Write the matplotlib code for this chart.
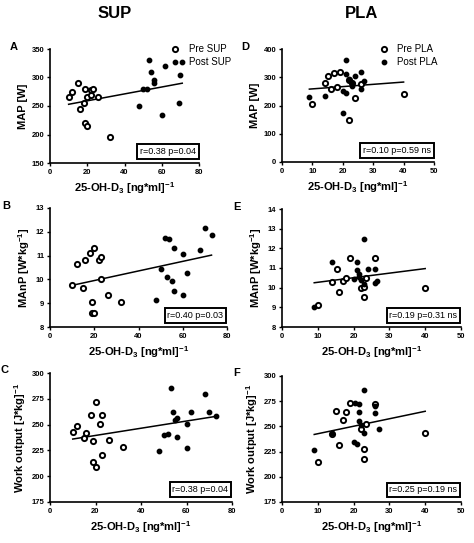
import matplotlib
matplotlib.use("Agg")
import matplotlib.pyplot as plt
import numpy as np

plt.rcParams['font.family'] = ['Liberation Sans', 'DejaVu Sans']
plt.rcParams['mathtext.fontset'] = 'custom'
plt.rcParams['mathtext.rm'] = 'Liberation Sans:bold'
plt.rcParams['mathtext.it'] = 'Liberation Sans:bold'
plt.rcParams['mathtext.bf'] = 'Liberation Sans:bold'

# ---- data ----
a_pre_x = [10,12,15,16,18,19,19,20,20,22,22,23,26,32]
a_pre_y = [265,275,290,245,255,280,220,215,265,270,278,280,265,195]
a_post_x = [48,50,52,53,54,56,56,60,62,69,70,71]
a_post_y = [250,280,280,330,310,290,295,235,320,255,305,328]
a_line = [10,71,253,290]

b_pre_x = [10,12,15,16,18,19,19,20,20,22,23,23,26,32]
b_pre_y = [9.75,10.65,9.65,10.8,11.1,9.05,8.6,8.6,11.3,10.8,10.95,10.0,9.35,9.05]
b_post_x = [48,50,52,53,54,55,56,56,60,60,62,68,70,73]
b_post_y = [9.15,10.45,11.75,10.1,11.7,9.95,9.5,11.3,9.35,11.05,10.25,11.25,12.15,11.85]
b_line = [10,73,9.75,11.02]

c_pre_x = [10,12,15,16,18,19,19,20,20,22,23,23,26,32]
c_pre_y = [243,249,237,242,259,234,214,209,272,251,259,221,235,228]
c_post_x = [48,50,52,53,54,55,56,56,60,60,62,68,70,73]
c_post_y = [224,240,241,285,262,254,256,238,227,251,262,280,262,258]
c_line = [10,73,236,258]

d_pre_x = [10,14,15,17,16,18,19,22,22,23,24,26,40]
d_pre_y = [205,280,305,315,260,265,320,290,150,280,225,275,240]
d_post_x = [9,14,20,20,21,21,21,22,23,23,24,26,26,27]
d_post_y = [230,235,175,250,245,360,310,295,280,270,305,320,260,285]
d_line = [9,40,258,283]

e_pre_x = [10,14,15.5,16,17,18,19,22,23,23,23.5,26,40]
e_pre_y = [9.1,10.3,10.95,9.8,10.35,10.5,11.5,10.0,10.05,9.55,10.5,11.5,10.0]
e_post_x = [9,14,20,21,21,21.5,22,23,23,24,26,26,26.5,21.5]
e_post_y = [9.0,11.3,10.45,11.3,10.9,10.7,10.4,12.45,10.2,10.95,10.95,10.25,10.35,10.55]
e_line = [9,40,10.25,10.97]

f_pre_x = [10,14,15,16,17,18,19,22,23,23,23.5,26,40]
f_pre_y = [215,242,265,232,256,264,273,247,228,218,252,272,243]
f_post_x = [9,14,20,20.5,21,21.5,21.5,21.5,22,23,23,26,26,27]
f_post_y = [227,243,235,273,233,272,264,255,251,286,243,270,263,247]
f_line = [9,40,242,265]

W, H = 474, 543
fig = plt.figure(figsize=(W/100, H/100), dpi=100)

def box(x0, y0, x1, y1):
    return [x0/W, 1-y1/H, (x1-x0)/W, (y1-y0)/H]

panels = [
    ("A", box(50,49,199,163), a_pre_x,a_pre_y,a_post_x,a_post_y,a_line,(0,80),range(0,81,20),(150,350),range(150,351,50),"MAP [W]","r=0.38 p=0.04",("Pre SUP","Post SUP")),
    ("B", box(50,208,227,327), b_pre_x,b_pre_y,b_post_x,b_post_y,b_line,(0,80),range(0,81,20),(8,13),range(8,14),"MAnP [W*kg$^{-1}$]","r=0.40 p=0.03",None),
    ("C", box(50,373,232,502), c_pre_x,c_pre_y,c_post_x,c_post_y,c_line,(0,80),range(0,81,20),(175,300),range(175,301,25),"Work output [J*kg]$^{-1}$","r=0.38 p=0.04",None),
    ("D", box(282,49,434,162), d_pre_x,d_pre_y,d_post_x,d_post_y,d_line,(0,50),range(0,51,10),(0,400),range(0,401,100),"MAP [W]","r=0.10 p=0.59 ns",("Pre PLA","Post PLA")),
    ("E", box(282,209,461,327), e_pre_x,e_pre_y,e_post_x,e_post_y,e_line,(0,50),range(0,51,10),(8,14),range(8,15),"MAnP [W*kg$^{-1}$]","r=0.19 p=0.31 ns",None),
    ("F", box(282,376,461,502), f_pre_x,f_pre_y,f_post_x,f_post_y,f_line,(0,50),range(0,51,10),(175,300),range(175,301,25),"Work output [J*kg]$^{-1}$","r=0.25 p=0.19 ns",None),
]

for (lab, pos, px, py, qx, qy, ln, xl, xt, yl, yt, ylab, stat, leg) in panels:
    ax = fig.add_axes(pos)
    h1 = ax.scatter(px, py, s=14, facecolors="white", edgecolors="black", linewidths=1.4, zorder=3)
    h2 = ax.scatter(qx, qy, s=10, color="black", zorder=3)
    ax.plot([ln[0], ln[1]], [ln[2], ln[3]], color="black", lw=1.1, zorder=2)
    ax.set_xlim(*xl); ax.set_ylim(*yl)
    ax.set_xticks(list(xt)); ax.set_yticks(list(yt))
    for s in ("top","right"):
        ax.spines[s].set_visible(False)
    for s in ("left","bottom"):
        ax.spines[s].set_linewidth(1.2)
    ax.tick_params(labelsize=5.5, width=1.0, length=2.5, pad=1.5)
    for t in ax.get_xticklabels()+ax.get_yticklabels():
        t.set_fontweight("bold")
    ax.set_ylabel(ylab, fontsize=8, fontweight="bold", labelpad=3)
    ax.set_xlabel("25-OH-D$_3$ [ng*ml]$^{-1}$", fontsize=8, fontweight="bold", labelpad=3)
    ax.text(0.98, 0.06, stat, transform=ax.transAxes, ha="right", va="bottom", fontsize=6.5,
            bbox=dict(facecolor="white", edgecolor="black", linewidth=1.4, pad=2))
    ax.text(-0.27, 1.02, lab, transform=ax.transAxes, fontsize=8, fontweight="bold", va="center")
    if leg:
        ax.legend([h1, h2], list(leg), loc="upper left", bbox_to_anchor=(0.75 if lab=="A" else 0.58, 1.08),
                  frameon=False, fontsize=7, handletextpad=0.4, borderaxespad=0, labelspacing=0.3)

fig.text(115/W, 1-14/H, "SUP", ha="center", va="center", fontsize=12, fontweight="bold")
fig.text(362/W, 1-14/H, "PLA", ha="center", va="center", fontsize=12, fontweight="bold")
fig.savefig("out.png", dpi=100)
